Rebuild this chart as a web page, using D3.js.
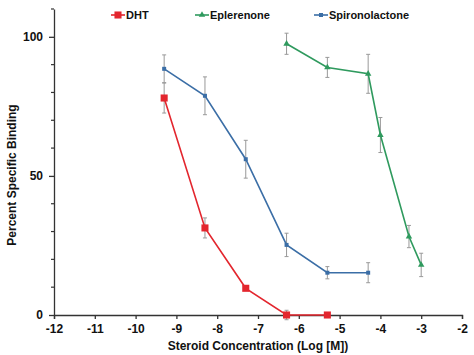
<!DOCTYPE html>
<html><head><meta charset="utf-8">
<script src="https://cdn.jsdelivr.net/npm/d3@7"></script>
<style>body{margin:0;background:#fff}svg{display:block}text{font-family:"Liberation Sans",Arial,sans-serif;font-weight:bold;fill:#111}</style>
</head><body><svg id="c" width="474" height="355"></svg>
<script>
const dhtX = [-9.3, -8.3, -7.3, -6.3, -5.3];
const dhtY = [78, 31.3, 9.6, 0, 0];
const dhtErr = [5.4, 3.6, 0, 1.7, 0];
const spiroX = [-9.3, -8.3, -7.3, -6.3, -5.3, -4.3];
const spiroY = [88.5, 78.8, 56, 25.2, 15.2, 15.2];
const spiroErr = [5, 6.8, 6.8, 4.2, 2.2, 3.6];
const epleX = [-6.3, -5.3, -4.3, -4.0, -3.3, -3.0];
const epleY = [97.5, 89, 86.7, 64.7, 28.2, 18];
const epleErr = [3.8, 3.6, 7, 6.3, 4, 4.2];
const xTicks = [-12, -11, -10, -9, -8, -7, -6, -5, -4, -3, -2];
const yTicks = [0, 50, 100];
const yMinor = [10, 20, 30, 40, 60, 70, 80, 90, 110];

const svg = d3.select("#c");
const x = d3.scaleLinear().domain([-12, -2]).range([54, 462]);
const y = d3.scaleLinear().domain([0, 110]).range([315, 9]);

// axes
const xa = svg.append("g").attr("transform", "translate(0,315)")
  .call(d3.axisBottom(x).tickValues(xTicks).tickSize(4).tickPadding(5).tickFormat(d3.format("d")));
xa.select(".domain").attr("stroke", "#333").attr("stroke-width", 1.3);
xa.selectAll(".tick line").attr("stroke", "#333").attr("stroke-width", 1.3);
xa.selectAll("text").attr("font-size", 12).text(d => d < 0 ? "-" + Math.abs(d) : d);

const ya = svg.append("g").attr("transform", "translate(54,0)")
  .call(d3.axisLeft(y).tickValues(yTicks).tickSize(5).tickPadding(6).tickSizeOuter(0));
ya.select(".domain").attr("stroke", "#333").attr("stroke-width", 1.3);
ya.selectAll(".tick line").attr("stroke", "#333").attr("stroke-width", 1.3);
ya.selectAll("text").attr("font-size", 12);
svg.append("g").selectAll("line").data(yMinor).join("line")
  .attr("x1", 51).attr("x2", 54).attr("y1", d => y(d)).attr("y2", d => y(d))
  .attr("stroke", "#333").attr("stroke-width", 1.2);

svg.append("text").attr("x", 258).attr("y", 350).attr("text-anchor", "middle")
  .attr("font-size", 12).text("Steroid Concentration (Log [M])");
svg.append("text").attr("transform", "translate(16,175) rotate(-90)").attr("text-anchor", "middle")
  .attr("font-size", 12).text("Percent Specific Binding");

function series(xs, ys, es, color, marker) {
  const pts = xs.map((v, i) => ({x: v, y: ys[i], e: es[i]}));
  const g = svg.append("g");
  // error bars
  const eb = g.selectAll(".eb").data(pts.filter(p => p.e > 0)).join("g");
  eb.append("line").attr("x1", p => x(p.x)).attr("x2", p => x(p.x))
    .attr("y1", p => y(p.y + p.e)).attr("y2", p => y(p.y - p.e)).attr("stroke", "#999").attr("stroke-width", 1);
  [1, -1].forEach(s => eb.append("line").attr("x1", p => x(p.x) - 2).attr("x2", p => x(p.x) + 2)
    .attr("y1", p => y(p.y + s * p.e)).attr("y2", p => y(p.y + s * p.e)).attr("stroke", "#999").attr("stroke-width", 1));
  g.append("path").datum(pts).attr("fill", "none").attr("stroke", color).attr("stroke-width", 1.6)
    .attr("d", d3.line().x(p => x(p.x)).y(p => y(p.y)));
  g.selectAll(".m").data(pts).join("path")
    .attr("transform", p => `translate(${x(p.x)},${y(p.y)})`)
    .attr("d", marker).attr("fill", color);
}
const sqBig = d3.symbol(d3.symbolSquare, 50)();
const sqSmall = d3.symbol(d3.symbolSquare, 16)();
const tri = d3.symbol(d3.symbolTriangle, 18)();
series(dhtX, dhtY, dhtErr, "#e3262e", sqBig);
series(spiroX, spiroY, spiroErr, "#3b6ea6", sqSmall);
series(epleX, epleY, epleErr, "#2f9a5e", tri);

// legend
const leg = [
  {name: "DHT", c: "#e3262e", m: sqBig, x0: 111},
  {name: "Eplerenone", c: "#2f9a5e", m: tri, x0: 195},
  {name: "Spironolactone", c: "#3b6ea6", m: sqSmall, x0: 314}
];
const lg = svg.append("g").selectAll("g").data(leg).join("g").attr("transform", d => `translate(${d.x0},15)`);
lg.append("line").attr("x1", 0).attr("x2", 14).attr("stroke", d => d.c).attr("stroke-width", 1.6);
lg.append("path").attr("transform", "translate(7,0)").attr("d", d => d.m).attr("fill", d => d.c);
lg.append("text").attr("x", 15).attr("y", 4).attr("font-size", 11).text(d => d.name);
</script></body></html>
